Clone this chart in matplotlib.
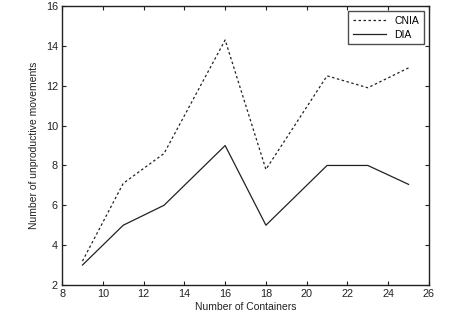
import matplotlib
matplotlib.use("Agg")
import matplotlib.pyplot as plt

plt.rcParams['font.family'] = ['Liberation Sans', 'DejaVu Sans']

x_cnia = [9, 11, 13, 16, 18, 21, 23, 25]
cnia = [3.2, 7.1, 8.6, 14.3, 7.8, 12.5, 11.9, 12.9]
x_dia = [9, 11, 13, 16, 18, 21, 23, 25]
dia = [3.0, 5.0, 6.0, 9.0, 5.0, 8.0, 8.0, 7.05]
xticks = [8, 10, 12, 14, 16, 18, 20, 22, 24, 26]
yticks = [2, 4, 6, 8, 10, 12, 14, 16]

fig = plt.figure(figsize=(4.74, 3.22), dpi=100)
ax = fig.add_axes([0.131, 0.115, 0.774, 0.866])
ax.plot(x_cnia, cnia, color='#222222', linestyle=(0, (2, 2)), linewidth=0.9, label='CNIA')
ax.plot(x_dia, dia, color='#222222', linestyle='-', linewidth=0.9, label='DIA')
ax.set_xlim(8, 26)
ax.set_ylim(2, 16)
ax.set_xticks(xticks)
ax.set_yticks(yticks)
ax.tick_params(direction='in', top=True, right=True, labelsize=7.8, length=3, width=0.8, colors='#222222', pad=3)
for s in ax.spines.values():
    s.set_linewidth(1.0)
    s.set_color('#222222')
ax.set_xlabel('Number of Containers', fontsize=7.5, color='#222222', labelpad=2)
ax.set_ylabel('Number of unproductive movements', fontsize=7.5, color='#222222', labelpad=5)
leg = ax.legend(loc='upper right', fontsize=7.5, frameon=True, fancybox=False, edgecolor='#222222',
                handlelength=3.2, borderaxespad=0.5, borderpad=0.45, labelspacing=0.35)
leg.get_frame().set_linewidth(1.0)
fig.savefig('out.png', dpi=100)
